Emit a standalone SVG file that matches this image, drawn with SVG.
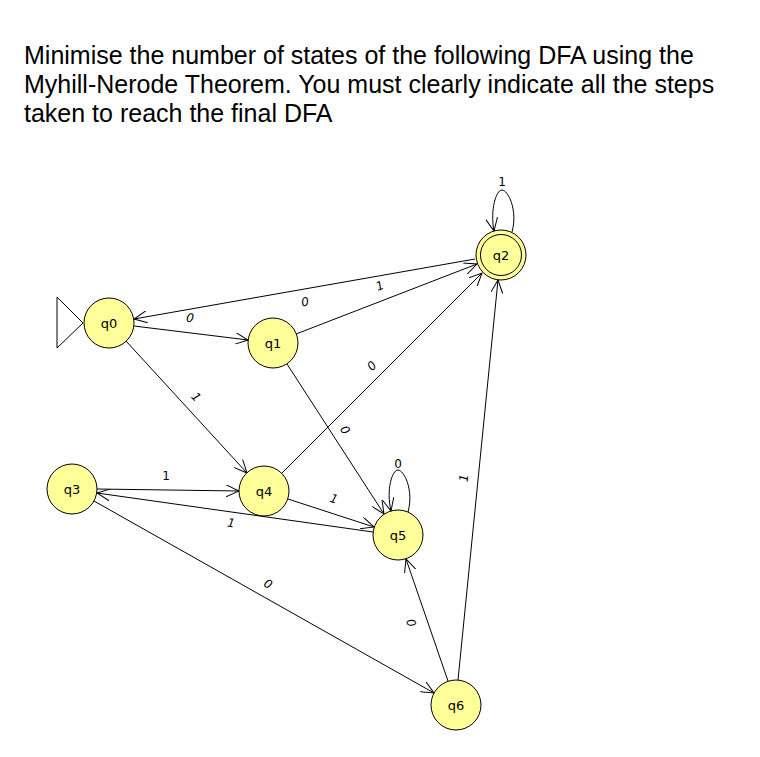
<svg xmlns="http://www.w3.org/2000/svg" width="760" height="757" viewBox="0 0 760 757">
<style>
.t{font-family:"Liberation Sans",Arial,sans-serif;font-size:25px;fill:#000}
.n circle{fill:#ffff99;stroke:#000;stroke-width:1}
.n text{font-family:"DejaVu Sans",sans-serif;font-size:13px;text-anchor:middle;fill:#000}
.e line,.e path{stroke:#000;stroke-width:1;fill:none;marker-end:url(#a)}
.l{font-family:"DejaVu Sans",sans-serif;font-size:12px;font-style:italic;text-anchor:middle;fill:#000}
</style>
<defs><marker id="a" markerWidth="14" markerHeight="12" refX="13" refY="6" orient="auto" markerUnits="userSpaceOnUse"><path d="M0,0 L13,6 L0,12" fill="none" stroke="#000" stroke-width="1"/></marker></defs>
<rect width="760" height="757" fill="#fff"/>
<text class="t" x="24" y="64">Minimise the number of states of the following DFA using the</text>
<text class="t" x="24" y="93">Myhill-Nerode Theorem. You must clearly indicate all the steps</text>
<text class="t" x="24" y="122">taken to reach the final DFA</text>
<g id="edges" class="e">
<line x1="134" y1="326" x2="248" y2="340"/>
<line x1="475" y1="259" x2="134" y2="319"/>
<line x1="296" y1="334" x2="477" y2="264"/>
<line x1="126" y1="341" x2="247" y2="473"/>
<line x1="287" y1="364" x2="384" y2="514"/>
<line x1="282" y1="473" x2="482" y2="273"/>
<line x1="97" y1="489" x2="239" y2="491"/>
<line x1="288" y1="499" x2="374" y2="527"/>
<line x1="373" y1="532" x2="97" y2="493"/>
<line x1="94" y1="501" x2="434" y2="693"/>
<line x1="448" y1="681" x2="406" y2="559"/>
<line x1="458" y1="680" x2="498" y2="280"/>
<path d="M408,512 C414,490 404,470 398,470 C392,470 386,490 391,511"/>
<path d="M512,232 C518,210 508,190 502,190 C496,190 490,210 494,231"/>
</g>
<g id="labels">
<text class="l" x="190" y="322" transform="rotate(7 190 318)">0</text>
<text class="l" x="305" y="306" transform="rotate(-10 305 302)">0</text>
<text class="l" x="380" y="290" transform="rotate(-21 380 286)">1</text>
<text class="l" x="502" y="186" style="font-style:normal">1</text>
<text class="l" x="196" y="401" transform="rotate(47 196 397)">1</text>
<text class="l" x="372" y="370" transform="rotate(-45 372 366)">0</text>
<text class="l" x="345" y="434" transform="rotate(57 345 430)">0</text>
<text class="l" x="166" y="480" style="font-style:normal">1</text>
<text class="l" x="334" y="503" transform="rotate(18 334 499)">1</text>
<text class="l" x="231" y="527" transform="rotate(8 231 523)">1</text>
<text class="l" x="398" y="468" style="font-style:normal">0</text>
<text class="l" x="268" y="588" transform="rotate(29 268 584)">0</text>
<text class="l" x="411" y="627" transform="rotate(72 411 623)">0</text>
<text class="l" x="464" y="482" transform="rotate(-84 464 478)">1</text>
</g>
<path id="start" d="M57,297 L83,323 L57,348 Z" fill="none" stroke="#000" stroke-width="1"/>
<g id="q0" class="n"><circle cx="109" cy="323" r="25"/><text x="109" y="328">q0</text></g>
<g id="q1" class="n"><circle cx="273" cy="343" r="25"/><text x="273" y="348">q1</text></g>
<g id="q2" class="n"><circle cx="501" cy="255" r="25"/><circle cx="501" cy="255" r="20.5"/><text x="501" y="260">q2</text></g>
<g id="q3" class="n"><circle cx="72" cy="489" r="25"/><text x="72" y="494">q3</text></g>
<g id="q4" class="n"><circle cx="264" cy="491" r="25"/><text x="264" y="496">q4</text></g>
<g id="q5" class="n"><circle cx="398" cy="535" r="25"/><text x="398" y="540">q5</text></g>
<g id="q6" class="n"><circle cx="456" cy="705" r="25"/><text x="456" y="710">q6</text></g>
</svg>
